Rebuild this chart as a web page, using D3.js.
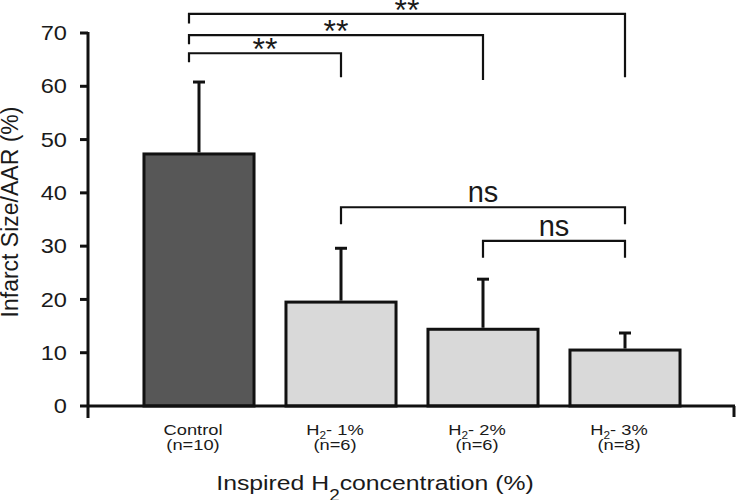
<!DOCTYPE html>
<html>
<head>
<meta charset="utf-8">
<script src="https://cdn.jsdelivr.net/npm/d3@7"></script>
<style>
body { margin: 0; background: #fff; }
text { font-family: "Liberation Sans", Arial, sans-serif; fill: #1a1a1a; }
</style>
</head>
<body>
<script>
// chart data
var categories = ["Control", "H₂- 1%", "H₂- 2%", "H₂- 3%"];
var groupSizes = ["(n=10)", "(n=6)", "(n=6)", "(n=8)"];
var means = [47.3, 19.5, 14.4, 10.5];
var errors = [13.5, 10.1, 9.4, 3.2];
var yTicks = [0, 10, 20, 30, 40, 50, 60, 70];

// significance brackets (values in y units)
var compFrom = [0, 0, 0, 1, 2];
var compTo = [1, 2, 3, 3, 3];
var compLevel = [66.2, 69.6, 73.6, 37.3, 31.0];
var compLeftEnd = [64.5, 67.9, 71.8, 34.1, 27.8];
var compRightEnd = [61.7, 61.2, 61.7, 34.1, 27.8];
var compLabels = ["**", "**", "**", "ns", "ns"];

var w = 736, h = 500;
var stretch = 1.18; // text in the figure is a bit wider than the font

var svg = d3.select("body").append("svg")
    .attr("width", w)
    .attr("height", h);

var x = d3.scaleBand()
    .domain(categories)
    .range([128, 696])
    .paddingInner(0.225)
    .paddingOuter(0.1125);

var y = d3.scaleLinear()
    .domain([0, 70])
    .range([406, 33]);

function xc(i) { return x(categories[i]) + x.bandwidth() / 2; }

// writes a string, turning "₂" into a real subscript tspan
function richText(sel, str, subSize, subDy) {
    var parts = str.split("₂");
    parts.forEach(function(p, k) {
        if (k > 0) {
            sel.append("tspan").attr("font-size", subSize).attr("dy", subDy).text("2");
            sel.append("tspan").attr("dy", -subDy).text(p);
        } else {
            sel.append("tspan").text(p);
        }
    });
}

function label(px, py, str, size, anchor, subSize, subDy) {
    var t = svg.append("g")
        .attr("transform", "translate(" + px + "," + py + ") scale(" + stretch + ",1)")
        .append("text")
        .attr("font-size", size)
        .attr("text-anchor", anchor || "middle");
    richText(t, str, subSize || size * 0.7, subDy || size * 0.28);
    return t;
}

// bars
svg.append("g")
    .selectAll("rect")
    .data(means)
    .enter()
    .append("rect")
    .attr("x", function(d, i) { return x(categories[i]); })
    .attr("y", function(d) { return y(d); })
    .attr("width", x.bandwidth())
    .attr("height", function(d) { return y(0) - y(d); })
    .attr("fill", function(d, i) { return i == 0 ? "#575757" : "#d9d9d9"; })
    .attr("stroke", "#111")
    .attr("stroke-width", 3);

// error bars (upper only)
var err = svg.append("g").attr("stroke", "#111").attr("stroke-width", 3);
means.forEach(function(m, i) {
    err.append("line")
        .attr("x1", xc(i)).attr("x2", xc(i))
        .attr("y1", y(m) - 1.5).attr("y2", y(m + errors[i]));
    err.append("line")
        .attr("x1", xc(i) - 6).attr("x2", xc(i) + 6)
        .attr("y1", y(m + errors[i])).attr("y2", y(m + errors[i]));
});

// axes
var ax = svg.append("g").attr("stroke", "#111").attr("stroke-width", 3).attr("fill", "none");
ax.append("line").attr("x1", 88).attr("x2", 88).attr("y1", y(70) - 1).attr("y2", y(0) + 12);
ax.append("line").attr("x1", 88).attr("x2", 735).attr("y1", y(0)).attr("y2", y(0));
ax.append("line").attr("x1", 734).attr("x2", 734).attr("y1", y(0)).attr("y2", y(0) + 11);
yTicks.forEach(function(t) {
    ax.append("line").attr("x1", 80).attr("x2", 88).attr("y1", y(t)).attr("y2", y(t));
    label(67, y(t) + 7.2, String(t), 20, "end");
});

// category labels
categories.forEach(function(c, i) {
    label(xc(i) - 6, 435, c, 15.5, "middle", 10, 4);
    label(xc(i) - 6, 450, groupSizes[i], 15.5);
});

// axis titles
label(375, 490, "Inspired H₂concentration (%)", 21, "middle", 16, 11);
svg.append("text")
    .attr("transform", "translate(18,212) rotate(-90)")
    .attr("text-anchor", "middle")
    .attr("font-size", 23)
    .text("Infarct Size/AAR (%)");

// significance brackets
var br = svg.append("g").attr("stroke", "#111").attr("stroke-width", 2.2).attr("fill", "none");
compFrom.forEach(function(f, k) {
    var x1 = xc(f) - (f == 0 ? 10 : 0), x2 = xc(compTo[k]);
    br.append("path")
        .attr("d", "M" + x1 + "," + y(compLeftEnd[k]) +
                   "V" + y(compLevel[k]) +
                   "H" + x2 +
                   "V" + y(compRightEnd[k]));
    if (compLabels[k] == "**") {
        svg.append("text")
            .attr("x", (x1 + x2) / 2)
            .attr("y", y(compLevel[k]) + 7)
            .attr("text-anchor", "middle")
            .attr("font-size", 32)
            .text(compLabels[k]);
    } else {
        svg.append("text")
            .attr("x", (x1 + x2) / 2)
            .attr("y", y(compLevel[k]) - 5)
            .attr("text-anchor", "middle")
            .attr("font-size", 29)
            .text(compLabels[k]);
    }
});
</script>
</body>
</html>
